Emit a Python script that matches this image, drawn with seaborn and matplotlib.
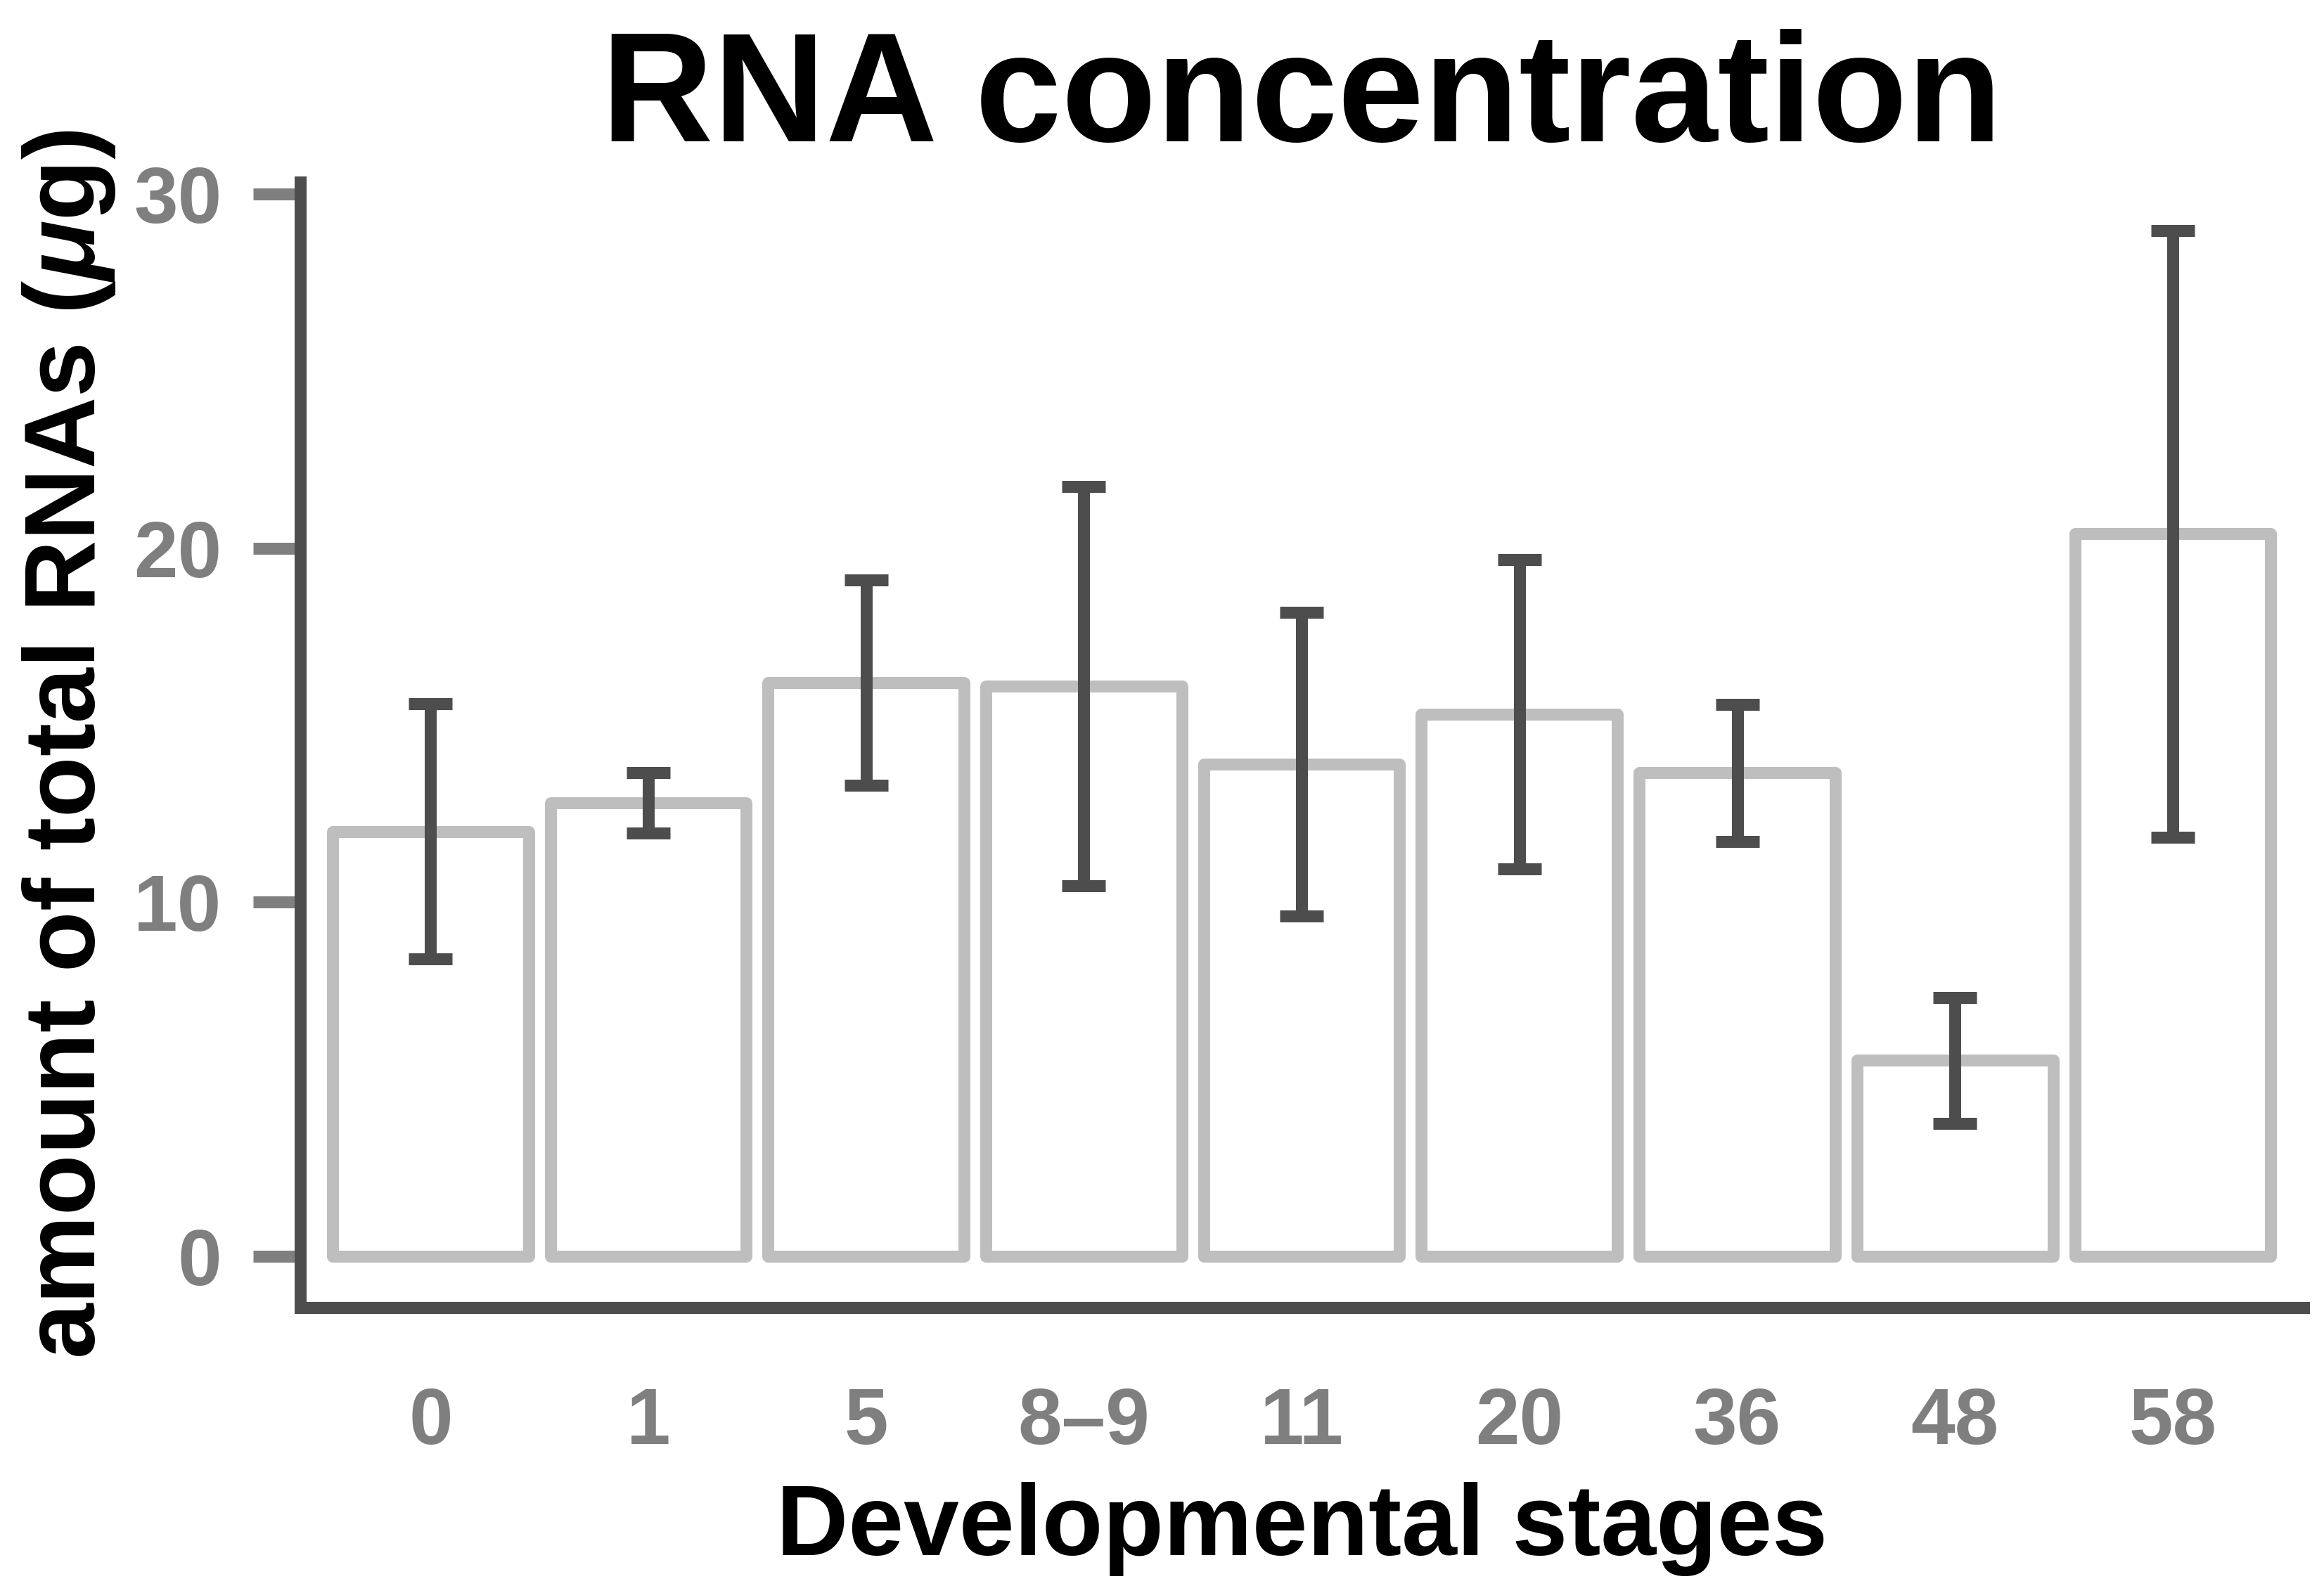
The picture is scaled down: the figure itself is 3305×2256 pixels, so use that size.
import numpy as np
import pandas as pd
import matplotlib
matplotlib.use("Agg")
import matplotlib.pyplot as plt
import seaborn as sns

# ---- data ----
stages = ["0", "1", "5", "8\u20139", "11", "20", "36", "48", "58"]
means = [12.0, 12.8, 16.2, 16.1, 13.9, 15.3, 13.65, 5.53, 20.4]
sds = [3.6, 0.85, 2.9, 5.63, 4.29, 4.37, 1.93, 1.78, 8.56]
y_ticks = [0, 10, 20, 30]
y_tick_labels = ["0", "10", "20", "30"]

title = "RNA concentration"
x_label = "Developmental stages"
y_label = r"amount of total RNAs ($\mu$g)"

# ---- style ----
sns.set_theme(style="white")
plt.rcParams["font.family"] = ["Liberation Sans", "DejaVu Sans"]
plt.rcParams["font.weight"] = "bold"
plt.rcParams["mathtext.fontset"] = "custom"
plt.rcParams["mathtext.it"] = "Liberation Sans:italic:bold"
plt.rcParams["mathtext.rm"] = "Liberation Sans:bold"
plt.rcParams["mathtext.bf"] = "Liberation Sans:bold"

SPINE = "#4D4D4D"
BAR_EDGE = "#BEBEBE"
TICK_GRAY = "#7F7F7F"
LW = 4.08

W, H, DPI = 3305, 2256, 300
fig = plt.figure(figsize=(W / DPI, H / DPI), dpi=DPI)
ax = fig.add_axes([0.12905, 0.17575, 0.86209, 0.70935])

df = pd.DataFrame({"stage": stages, "mean": means, "sd": sds})

sns.barplot(data=df, x="stage", y="mean", order=stages, color="white",
            edgecolor=BAR_EDGE, linewidth=LW, width=0.9, saturation=1,
            errorbar=None, ax=ax)
for p in ax.patches:
    p.set_joinstyle("round")
    p.set_facecolor("white")

xpos = ax.get_xticks()
ax.errorbar(x=xpos, y=df["mean"], yerr=df["sd"], fmt="none",
            ecolor=SPINE, elinewidth=LW, capsize=7.4, capthick=LW, zorder=3)

ax.set_xlim(-0.6, 8.6)
ax.set_ylim(-1.44, 30.33)
ax.set_yticks(y_ticks)
ax.set_yticklabels(y_tick_labels)

sns.despine(ax=ax)
for side in ["left", "bottom"]:
    ax.spines[side].set_color(SPINE)
    ax.spines[side].set_linewidth(LW)

ax.tick_params(axis="y", which="major", direction="out", length=16.2,
               width=LW, color=TICK_GRAY, labelcolor=TICK_GRAY,
               labelsize=27, pad=10.5, left=True)
ax.tick_params(axis="x", which="major", length=0, labelcolor=TICK_GRAY,
               labelsize=27, pad=27, bottom=True)
for lab in ax.get_xticklabels() + ax.get_yticklabels():
    lab.set_fontweight("bold")

ax.set_title(title, fontsize=53, fontweight="bold", color="black",
             y=1.0364, pad=0, va="baseline")

ax.set_xlabel(x_label, fontsize=34, fontweight="bold", color="black")
ax.xaxis.set_label_coords(0.5, -0.2201)
ax.xaxis.label.set_va("baseline")

ax.set_ylabel(y_label, fontsize=34, fontweight="bold", color="black")
ax.yaxis.set_label_coords(-0.1023, 0.5)
ax.yaxis.label.set_va("baseline")

ax.grid(False)
fig.savefig("out.png", dpi=DPI, facecolor="white")
